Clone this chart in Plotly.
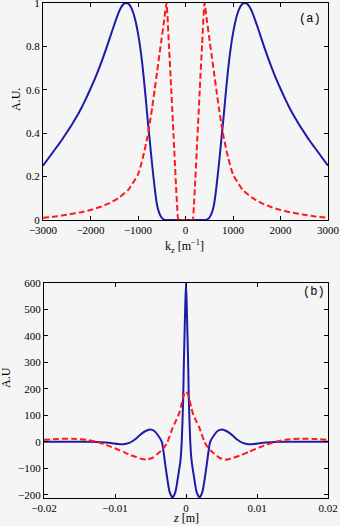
import plotly.graph_objects as go

# ---------- panel (a) data (positive half, curves are symmetric) ----------
kz_pos = [0, 100, 200, 300, 400, 450, 500, 550, 600, 650, 700, 750, 800, 850, 900,
          950, 1000, 1050, 1100, 1150, 1200, 1250, 1300, 1350, 1400, 1500, 1600, 1700,
          1800, 1900, 2000, 2100, 2200, 2300, 2400, 2500, 2600, 2700, 2800, 2900, 3000]
blue_a_pos = [0, 0, 0, 0, 0, 0.002, 0.01, 0.03, 0.07, 0.15, 0.25, 0.36, 0.47, 0.59, 0.70,
              0.79, 0.86, 0.915, 0.955, 0.982, 0.996, 1.0, 0.996, 0.982, 0.96, 0.90,
              0.835, 0.77, 0.71, 0.655, 0.605, 0.557, 0.513, 0.473, 0.437, 0.403, 0.37,
              0.34, 0.31, 0.28, 0.25]

kz_red_pos = [0, 100, 150, 175, 200, 250, 300, 350, 400, 450, 500, 550, 600, 650, 700,
              750, 800, 900, 1000, 1200, 1400, 1600, 1800, 2000, 2200, 2500, 2700, 3000]
red_a_pos = [0, 0, 0, 0.06, 0.16, 0.38, 0.60, 0.81, 1.0, 0.92, 0.84, 0.76, 0.68, 0.60,
             0.52, 0.45, 0.385, 0.285, 0.21, 0.14, 0.103, 0.078, 0.06, 0.046, 0.036,
             0.024, 0.017, 0.01]

# ---------- panel (b) data (positive half, curves are symmetric) ----------
z_blue_pos = [0, 0.0001, 0.0002, 0.0003, 0.0004, 0.0006, 0.0008, 0.0011, 0.0015, 0.0019,
              0.0023, 0.0027, 0.0031, 0.0034, 0.004, 0.0045, 0.005, 0.0056, 0.0062,
              0.0068, 0.0074, 0.008, 0.0088, 0.0096, 0.0106, 0.012, 0.014, 0.017, 0.02]
blue_b_pos = [600, 520, 410, 300, 160, 0, -75, -128, -190, -210, -190, -128, -50, 0, 27,
              42, 47, 42, 32, 18, 5, -4, -9, -8, -4, -1, 0, 0, 0]

z_red_pos = [0, 0.0003, 0.0007, 0.001, 0.0015, 0.0019, 0.0023, 0.0026, 0.003, 0.0035,
             0.004, 0.0047, 0.0055, 0.0063, 0.007, 0.0078, 0.0088, 0.0097, 0.011,
             0.0126, 0.014, 0.016, 0.018, 0.02]
red_b_pos = [190, 178, 135, 105, 75, 52, 22, 0, -18, -33, -45, -60, -67, -64, -57, -50,
             -38, -28, -14, 0, 8, 12, 11, 8]

xticks_a = [-3000, -2000, -1000, 0, 1000, 2000, 3000]
yticks_a = [0, 0.2, 0.4, 0.6, 0.8, 1]
yticklabels_a = ["0", "0.2", "0.4", "0.6", "0.8", "1"]
xticks_b = [-0.02, -0.01, 0, 0.01, 0.02]
xticklabels_b = ["\u22120.02", "\u22120.01", "0", "0.01", "0.02"]
yticks_b = [-200, -100, 0, 100, 200, 300, 400, 500, 600]


def mirror(xs, ys):
    x = [-v for v in reversed(xs[1:])] + list(xs)
    y = list(reversed(ys[1:])) + list(ys)
    return x, y


BLUE = "#1c1ca8"
RED = "#ff1a1a"
BG = "#f5f5f5"
FONT = "Liberation Serif"

fig = go.Figure()

x, y = mirror(kz_pos, blue_a_pos)
fig.add_trace(go.Scatter(x=x, y=y, mode="lines", line=dict(color=BLUE, width=2, shape="spline", smoothing=0.6),
                         xaxis="x", yaxis="y", showlegend=False))
x, y = mirror(kz_red_pos, red_a_pos)
fig.add_trace(go.Scatter(x=x, y=y, mode="lines", line=dict(color=RED, width=2, dash="6px,3px", shape="spline", smoothing=0.5),
                         xaxis="x", yaxis="y", showlegend=False))

x, y = mirror(z_blue_pos, blue_b_pos)
fig.add_trace(go.Scatter(x=x, y=y, mode="lines", line=dict(color=BLUE, width=2, shape="spline", smoothing=0.6),
                         xaxis="x2", yaxis="y2", showlegend=False))
x, y = mirror(z_red_pos, red_b_pos)
fig.add_trace(go.Scatter(x=x, y=y, mode="lines", line=dict(color=RED, width=2, dash="6px,3px", shape="spline", smoothing=0.6),
                         xaxis="x2", yaxis="y2", showlegend=False))

axis_common = dict(showline=True, linecolor="black", linewidth=1, mirror="ticks",
                   ticks="inside", ticklen=4, tickcolor="black", showgrid=False,
                   zeroline=False, automargin=False, ticklabelstandoff=0,
                   ticklabeloverflow="allow",
                   tickfont=dict(family=FONT, size=11, color="black"))

fig.update_layout(
    width=340, height=526,
    margin=dict(l=0, r=0, t=0, b=0, pad=0, autoexpand=False),
    paper_bgcolor=BG, plot_bgcolor=BG,
    xaxis=dict(domain=[43 / 340, 328 / 340], range=[-3000, 3000], tickvals=xticks_a, anchor="y", **axis_common),
    yaxis=dict(domain=[1 - 220 / 526, 1 - 3 / 526], range=[0, 1], tickvals=yticks_a,
               ticktext=yticklabels_a, anchor="x", **axis_common),
    xaxis2=dict(domain=[44 / 340, 328 / 340], range=[-0.02, 0.02], tickvals=xticks_b,
                ticktext=xticklabels_b, anchor="y2", **axis_common),
    yaxis2=dict(domain=[1 - 498 / 526, 1 - 283 / 526], range=[-212, 600], tickvals=yticks_b,
                anchor="x2", **axis_common),
    annotations=[
        dict(text="k<sub>z</sub> [m<sup>\u22121</sup>]", x=185 / 340, y=1 - 246 / 526,
             xref="paper", yref="paper", showarrow=False, xanchor="center", yanchor="middle",
             font=dict(family=FONT, size=12, color="black")),
        dict(text="A.U.", x=16 / 340, y=1 - 100 / 526, xref="paper", yref="paper",
             showarrow=False, textangle=-90, xanchor="center", yanchor="middle",
             font=dict(family=FONT, size=12, color="black")),
        dict(text="<i>z</i> [m]", x=186 / 340, y=1 - 518 / 526, xref="paper", yref="paper",
             showarrow=False, xanchor="center", yanchor="middle",
             font=dict(family=FONT, size=12, color="black")),
        dict(text="A.U", x=6 / 340, y=1 - 378 / 526, xref="paper", yref="paper",
             showarrow=False, textangle=-90, xanchor="center", yanchor="middle",
             font=dict(family=FONT, size=12, color="black")),
        dict(text="(a)", x=310 / 340, y=1 - 19 / 526, xref="paper", yref="paper",
             showarrow=False, xanchor="center", yanchor="middle",
             font=dict(family="Liberation Mono", size=12, color="black")),
        dict(text="(b)", x=314 / 340, y=1 - 292 / 526, xref="paper", yref="paper",
             showarrow=False, xanchor="center", yanchor="middle",
             font=dict(family="Liberation Mono", size=12, color="black")),
    ],
)

fig.write_html("out.html", config={"displayModeBar": False},
               post_script="document.body.style.margin='0';document.body.style.overflow='hidden';")
